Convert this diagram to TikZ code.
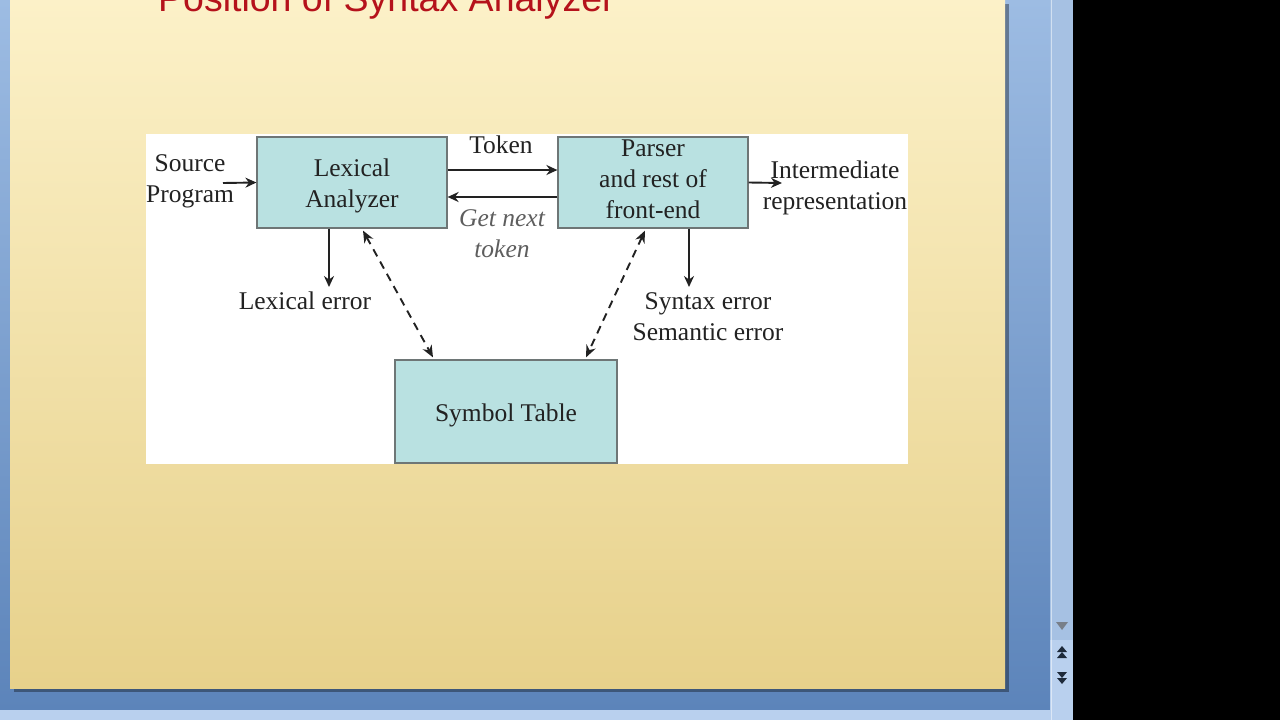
\documentclass[tikz,border=0pt]{standalone}
\usepackage{fontspec}
\setmainfont{Liberation Serif}
\newfontfamily\titlefont{Liberation Sans}
\usetikzlibrary{arrows.meta}
\definecolor{boxfill}{HTML}{B9E1E1}
\definecolor{boxline}{HTML}{6E7676}
\definecolor{ink}{HTML}{222222}
\definecolor{italgray}{HTML}{5E5E5E}
\definecolor{titlered}{HTML}{B5121B}
\definecolor{slidetop}{HTML}{FCF1C8}
\definecolor{slidebot}{HTML}{E7D18B}
\definecolor{frametop}{HTML}{9DBCE3}
\definecolor{framebot}{HTML}{5C84BA}
\definecolor{scrollc}{HTML}{A6C1E3}
\definecolor{scrolllow}{HTML}{B9D0EE}
\definecolor{iconc}{HTML}{1E2A3A}
\tikzset{
  blockbox/.style={draw=boxline, line width=1.2pt, fill=boxfill, inner sep=0pt},
  lbl/.style={inner sep=0pt, align=center, text=ink},
  arr/.style={draw=ink, line width=1.9pt, -{Stealth[length=11pt,width=10pt]}},
  darr/.style={draw=ink, line width=1.9pt, dash pattern=on 8pt off 6pt, {Stealth[length=12pt,width=10pt]}-{Stealth[length=12pt,width=10pt]}},
}
\begin{document}
\begin{tikzpicture}[x=1pt,y=-1pt]
\useasboundingbox (0,0) rectangle (1280,720);
\clip (0,0) rectangle (1280,720);
% window frame
\fill[black] (0,0) rectangle (1280,720);
\shade[top color=frametop, bottom color=framebot] (0,0) rectangle (1050,710);
\fill[scrollc] (1050,0) rectangle (1073,640);
\fill[scrolllow] (1050,640) rectangle (1073,720);
\draw[white, opacity=0.5, line width=1pt] (1051,0) -- (1051,720);
\fill[scrolllow] (0,710) rectangle (1050,720);
% scroll icons
\fill[iconc!60] (1056,622) -- (1068,622) -- (1062,630) -- cycle;
\fill[iconc] (1057,652) -- (1067,652) -- (1062,646) -- cycle;
\fill[iconc] (1057,658) -- (1067,658) -- (1062,652) -- cycle;
\fill[iconc] (1057,672) -- (1067,672) -- (1062,678) -- cycle;
\fill[iconc] (1057,678) -- (1067,678) -- (1062,684) -- cycle;
% slide shadow and slide
\fill[black, opacity=0.35] (14,4) rectangle (1009,692);
\shade[top color=slidetop, bottom color=slidebot] (10,0) rectangle (1005,688);
% title
\node[anchor=base west, inner sep=0pt, text=titlered, font=\titlefont\fontsize{37.5}{44}\selectfont] (title) at (158,11) {Position of Syntax Analyzer};
% white panel
\fill[white] (146,134) rectangle (908,464);
% boxes
\node[blockbox, minimum width=190pt, minimum height=91pt] (lex) at (352,182.5) {};
\node[blockbox, minimum width=190pt, minimum height=91pt] (par) at (653,182.5) {};
\node[blockbox, minimum width=222pt, minimum height=103pt] (sym) at (506,411.5) {};
\begin{scope}[font=\fontsize{25.5}{31}\selectfont]
\node[lbl] (lextext) at ([yshift=-3pt]lex.center) {Lexical\\Analyzer};
\node[lbl] (partext) at ([yshift=3pt]par.center) {Parser\\and rest of\\front-end};
\node[lbl] (symtext) at ([yshift=-4pt]sym.center) {Symbol Table};
% labels
\node[lbl] (src) at (190,181) {Source\\Program};
\node[lbl] (tok) at (501,145) {Token};
\node[lbl, text=italgray, font=\fontsize{25.5}{31}\selectfont\itshape] (gnt) at (502,234) {Get next\\token};
\node[lbl] (inter) at (835,188) {Intermediate\\representation};
\node[lbl] (lexerr) at (305,301) {Lexical error};
\node[lbl] (synerr) at (708,317) {Syntax error\\Semantic error};
\end{scope}
% connectors
\coordinate (srcend) at (223,183);
\coordinate (interend) at (782,183);
\coordinate (lexdown) at (329,287);
\coordinate (pardown) at (689,287);
\draw[arr] (srcend) -- (lex.west);
\draw[arr] ([yshift=12.5pt]lex.east) -- ([yshift=12.5pt]par.west);
\draw[arr] ([yshift=-14.5pt]par.west) -- ([yshift=-14.5pt]lex.east);
\draw[arr] (par.east) -- (interend);
\draw[arr] (lex.south -| lexdown) -- (lexdown);
\draw[arr] (par.south -| pardown) -- (pardown);
\draw[darr] ([xshift=11pt,yshift=-2pt]lex.south) -- ([xshift=-73pt,yshift=2pt]sym.north);
\draw[darr] ([xshift=-8pt,yshift=-2pt]par.south) -- ([xshift=80pt,yshift=2pt]sym.north);
\end{tikzpicture}
\end{document}
